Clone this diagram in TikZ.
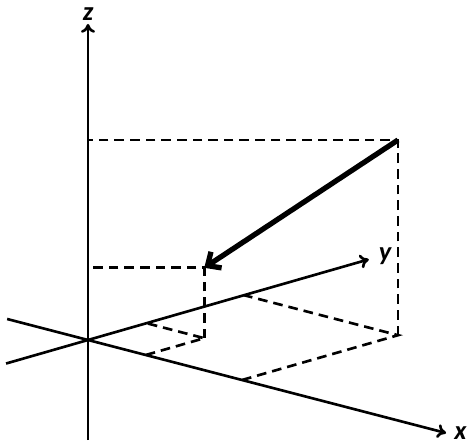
\documentclass[tikz,border=0pt]{standalone}
\usepackage{fontspec}
\setmainfont{Carlito}
\usetikzlibrary{arrows.meta}

\begin{document}
\begin{tikzpicture}[
    x={(0.77cm,-0.2cm)}, y={(0.78cm,0.224cm)}, z={(0cm,0.8cm)},
    axis/.style={line width=1.5pt, -{To[length=5pt,width=8pt]}},
    proj/.style={line width=1.5pt, dash pattern=on 5.5pt off 3.4pt},
    move/.style={line width=3pt, -{Straight Barb[length=6pt,width=11pt]}},
    axislabel/.style={font=\fontsize{15}{17}\selectfont\bfseries\itshape, inner sep=0pt}
  ]
  \useasboundingbox (-1.76cm,-2.1cm) rectangle (7.72cm,6.8cm);

  \coordinate (O) at (0,0,0);
  % axes
  \draw[axis] (-2.1,0,0) -- (9.3,0,0) node[axislabel, right=4pt] (xlab) {x};
  \draw[axis] (0,-2.1,0) -- (0,7.2,0) node[axislabel, right=5pt, yshift=2pt] (ylab) {y};
  \draw[axis] (0,0,-2.5) -- (0,0,7.9) node[axislabel, above=1.5pt] (zlab) {z};

  % far point
  \coordinate (Fx) at (4,0,0);
  \coordinate (Fy) at (0,4,0);
  \coordinate (F) at (4,4,0);
  \coordinate (P) at (4,4,4.88);
  \draw[proj] (Fx) -- (F) -- (Fy);
  \draw[proj] (F) -- (P) -- (P -| O);

  % near point
  \coordinate (Nx) at (1.5,0,0);
  \coordinate (Ny) at (0,1.5,0);
  \coordinate (N) at (1.5,1.5,0);
  \coordinate (Q) at (1.5,1.5,1.76);
  \draw[proj] (Nx) -- (N) -- (Ny);
  \draw[proj] (N) -- (Q) -- (Q -| O);

  \draw[move] (P) -- (Q);
\end{tikzpicture}
\end{document}
